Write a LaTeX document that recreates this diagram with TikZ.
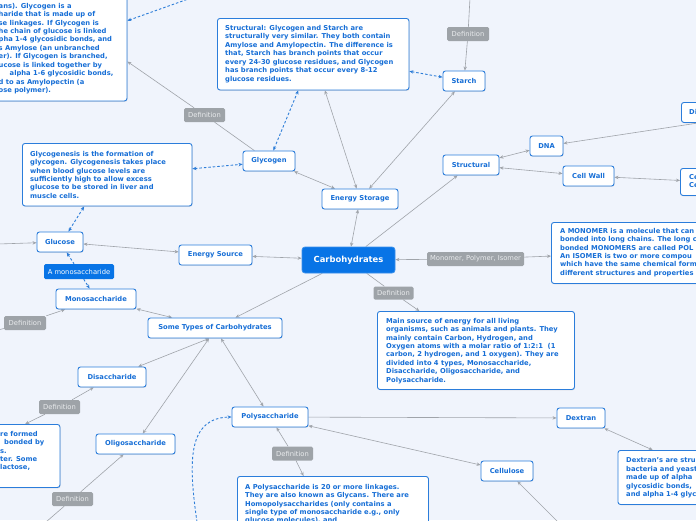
\documentclass[tikz,border=0pt]{standalone}
\usepackage{fontspec}
\setmainfont{DejaVu Sans}
\usetikzlibrary{arrows.meta,shadows,calc}
\definecolor{bgc}{RGB}{240,244,252}
\definecolor{nodeb}{RGB}{43,125,219}
\definecolor{txtb}{RGB}{22,110,214}
\definecolor{carbf}{RGB}{8,116,230}
\definecolor{labg}{RGB}{158,163,168}
\definecolor{labt}{RGB}{234,236,238}
\definecolor{lineg}{RGB}{160,164,170}
\definecolor{dashb}{RGB}{45,125,216}
\newcommand{\fsz}{\fontsize{6.75}{8.45}\selectfont}
\pgfdeclarelayer{back}
\pgfdeclarelayer{bg}
\pgfsetlayers{back,bg,main}
\begin{document}
\begin{tikzpicture}[x=1pt,y=-1pt,
 topic/.style={draw=nodeb, fill=white, line width=0.9pt, rounded corners=2.5pt, text=txtb, font=\fsz\bfseries, inner sep=0pt, minimum height=20pt, drop shadow={shadow xshift=0.6pt, shadow yshift=-0.8pt, opacity=0.2}},
 tbox/.style={topic, anchor=north west},
 txt/.style={text=txtb, font=\fsz\bfseries, align=left, inner sep=0pt, anchor=north west},
 lab/.style={fill=labg, text=labt, font=\fsz, rounded corners=1.5pt, inner sep=0pt, minimum height=14pt},
 conn/.style={draw=lineg, line width=0.6pt},
 dconn/.style={draw=dashb, line width=0.9pt, dash pattern=on 2.5pt off 2pt},
 onearrow/.style={-{Stealth[length=4pt,width=3.4pt]}},
 startarrow/.style={{Stealth[length=4pt,width=3.4pt]}-},
 twoarrow/.style={{Stealth[length=4pt,width=3.4pt]}-{Stealth[length=4pt,width=3.4pt]}}
]
\clip (0,0) rectangle (696,520);
\begin{pgfonlayer}{back}
\fill[bgc] (0,0) rectangle (696,520);
\end{pgfonlayer}

% ---- topic nodes ----
\node[draw=carbf!80!white, fill=carbf, text=white, font=\fontsize{8.4}{10}\selectfont\bfseries, rounded corners=3pt, line width=0.8pt, minimum width=93pt, minimum height=26pt, inner sep=0pt] (carbs) at (348.5,260) {Carbohydrates};
\node[topic, minimum width=76pt] (es) at (360,199) {Energy Storage};
\node[topic, minimum width=52pt] (glyc) at (269,161) {Glycogen};
\node[topic, minimum width=42pt] (starch) at (464,81) {Starch};
\node[topic, minimum width=56pt] (struct) at (471,165) {Structural};
\node[topic, minimum width=33pt] (dna) at (546.5,146) {DNA};
\node[topic, minimum width=51pt] (cellwall) at (588.5,176) {Cell Wall};
\node[tbox, minimum width=60pt, minimum height=20pt] (di) at (681,102) {};
\node[txt, anchor=west] (ditext) at (689,112) {Di};
\node[tbox, minimum width=60pt, minimum height=27pt] (ce) at (680,168) {};
\node[txt] (cetext) at (689,173.8) {Ce\\Ce};
\node[topic, minimum width=46pt] (glucose) at (60,242) {Glucose};
\node[topic, minimum width=73pt] (esrc) at (215.5,255) {Energy Source};
\node[topic, minimum width=80pt] (monos) at (96,299) {Monosaccharide};
\node[topic, minimum width=134pt] (st) at (215,328) {Some Types of Carbohydrates};
\node[topic, minimum width=68pt] (disacc) at (112,377) {Disaccharide};
\node[topic, minimum width=79pt] (oligo) at (135.5,444) {Oligosaccharide};
\node[topic, minimum width=76pt] (poly) at (270,417) {Polysaccharide};
\node[topic, minimum width=48pt] (dextran) at (581,418) {Dextran};
\node[topic, minimum width=52pt] (cellu) at (507,471) {Cellulose};

% ---- text boxes ----
\node[tbox, minimum width=136.5pt, minimum height=110.5pt] (gdef) at (-10,-10) {};
\node[txt] (gdeftext) at (-1.5,2.8) {ans). Glycogen is a\\haride that is made up of\\se linkages. If Glycogen is\\he chain of glucose is linked\\pha 1-4 glycosidic bonds, and\\s Amylose (an unbranched\\er). If Glycogen is branched,\\ucose is linked together by\\\hspace*{11pt}alpha 1-6 glycosidic bonds,\\d to as Amylopectin (a\\ose polymer).};
\node[tbox, minimum width=191.5pt, minimum height=71.5pt] (sdef) at (217,18) {};
\node[txt] (sdeftext) at (225,25.1) {Structural: Glycogen and Starch are\\structurally very similar. They both contain\\Amylose and Amylopectin. The difference is\\that, Starch has branch points that occur\\every 24-30 glucose residues, and Glycogen\\has branch points that occur every 8-12\\glucose residues.};
\node[tbox, minimum width=169.5pt, minimum height=62.5pt] (gen) at (22,143) {};
\node[txt] (gentext) at (30,150.8) {Glycogenesis is the formation of\\glycogen. Glycogenesis takes place\\when blood glucose levels are\\sufficiently high to allow excess\\glucose to be stored in liver and\\muscle cells.};
\node[tbox, minimum width=197pt, minimum height=78pt] (mdef) at (377,311) {};
\node[txt] (mdeftext) at (386,317.8) {Main source of energy for all living\\organisms, such as animals and plants. They\\mainly contain Carbon, Hydrogen, and\\Oxygen atoms with a molar ratio of 1:2:1\ \ (1\\carbon, 2 hydrogen, and 1 oxygen). They are\\divided into 4 types, Monosaccharide,\\Disaccharide, Oligosaccharide, and\\Polysaccharide.};
\node[tbox, minimum width=160pt, minimum height=61pt] (mono) at (551,222) {};
\node[txt] (monotext) at (560,227.8) {A MONOMER is a molecule that can\\bonded into long chains. The long c\\bonded MONOMERS are called POL\\An ISOMER is two or more compou\\which have the same chemical form\\different structures and properties};
\node[tbox, minimum width=69.5pt, minimum height=63pt] (ddef) at (-10,424) {};
\node[txt] (ddeftext) at (0,430.8) {re formed\\\hspace*{4pt}bonded by\\s.\\ter. Some\\lactose,};
\node[tbox, minimum width=191pt, minimum height=60pt] (pdef) at (237,476) {};
\node[txt] (pdeftext) at (245,483.8) {A Polysaccharide is 20 or more linkages.\\They are also known as Glycans. There are\\Homopolysaccharides (only contains a\\single type of monosaccharide e.g., only\\glucose molecules), and};
\node[tbox, minimum width=102.5pt, minimum height=54pt] (xdef) at (617.5,450) {};
\node[txt] (xdeftext) at (626,457.8) {Dextran's are stru\\bacteria and yeast\\made up of alpha\\glycosidic bonds,\\and alpha 1-4 glyc};

% ---- labels ----
\node[lab, minimum width=41pt] (lab1) at (204.5,115) {Definition};
\node[lab, minimum width=42pt] (lab2) at (468,34) {Definition};
\node[lab, minimum width=40pt, minimum height=13pt] (lab3) at (393.5,293) {Definition};
\node[lab, minimum width=97pt] (lab4) at (475.5,259) {Monomer, Polymer, Isomer};
\node[lab, minimum width=42pt] (lab5) at (25,323) {Definition};
\node[lab, minimum width=41pt] (lab6) at (59.5,407) {Definition};
\node[lab, minimum width=41pt] (lab7) at (72.5,499) {Definition};
\node[lab, minimum width=41pt] (lab8) at (292.5,453.5) {Definition};
\node[fill=carbf, text=white, font=\fsz, rounded corners=1.5pt, inner sep=0pt, minimum width=70pt, minimum height=15pt] (amono) at (79,271.5) {A monosaccharide};

% ---- free ends ----
\coordinate (gfree) at (191,-2);
\coordinate (topfree) at (470,-2);
\coordinate (dnafree) at (698,123);
\coordinate (glufree) at (-2,244);
\coordinate (monfree) at (-2,330);
\coordinate (oligofree) at (46,522);
\coordinate (cellfree) at (558,522);
\coordinate (polyfree) at (197,522);
\coordinate (stA) at ($(st.south)+(-6,0)$);
\coordinate (stB) at ($(st.south)+(6,0)$);

% ---- connectors ----
\begin{pgfonlayer}{bg}
\draw[conn,onearrow] (lab1) -- (gdef.-13);
\draw[conn] (lab1) -- (glyc);
\draw[dconn,onearrow] (gfree) -- (gdef.20);
\draw[conn,twoarrow] (glyc) -- (es);
\draw[conn,twoarrow] (sdef) -- (es);
\draw[conn,twoarrow] (starch) -- (es);
\draw[dconn,twoarrow] (glyc) -- (sdef);
\draw[dconn,twoarrow] (sdef) -- (starch);
\draw[conn] (topfree) -- (lab2);
\draw[conn,onearrow] (lab2) -- (starch);
\draw[conn,twoarrow] (es) -- (carbs);
\draw[conn,onearrow] (carbs) -- (struct);
\draw[conn,twoarrow] (struct) -- (dna);
\draw[conn,twoarrow] (struct) -- (cellwall);
\draw[conn,onearrow] (dnafree) -- (dna);
\draw[conn,twoarrow] (cellwall) -- (ce);
\draw[conn,onearrow] (lab4) -- (carbs);
\draw[conn,onearrow] (lab4) -- (mono);
\draw[conn] (carbs) -- (lab3);
\draw[conn,onearrow] (lab3) -- (mdef);
\draw[conn,twoarrow] (esrc) -- (carbs);
\draw[conn,twoarrow] (glucose) -- (esrc);
\draw[conn,onearrow] (glufree) -- (glucose);
\draw[dconn,twoarrow] (glucose.51) -- (gen.-126);
\draw[dconn,twoarrow] (gen.4) -- (glyc.-173);
\draw[dconn,startarrow] (glucose) -- (amono);
\draw[dconn,onearrow] (amono) -- (monos);
\draw[conn,twoarrow] (monos) -- (st);
\draw[conn] (monfree) -- (lab5);
\draw[conn,onearrow] (lab5) -- (monos);
\draw[conn,onearrow] (carbs) -- (st);
\draw[conn,twoarrow] (stA) -- (disacc);
\draw[conn,twoarrow] (stA) -- (oligo);
\draw[conn,twoarrow] (stB) -- (poly);
\draw[conn,onearrow] (lab6) -- (disacc);
\draw[conn,onearrow] (lab6) -- (ddef.north);
\draw[conn,onearrow] (lab7) -- (oligo);
\draw[conn] (oligofree) -- (lab7);
\draw[conn,onearrow] (lab8) -- (poly);
\draw[conn,onearrow] (lab8) -- (pdef.134);
\draw[conn,onearrow] (poly) -- (dextran);
\draw[conn,twoarrow] (poly) -- (cellu);
\draw[conn,twoarrow] (dextran.-24) -- (xdef.121);
\draw[conn,onearrow] (cellfree) -- (cellu);
\draw[dconn,onearrow] (polyfree) .. controls (188,460) and (188,418) .. (poly.west);
\end{pgfonlayer}
\end{tikzpicture}
\end{document}
